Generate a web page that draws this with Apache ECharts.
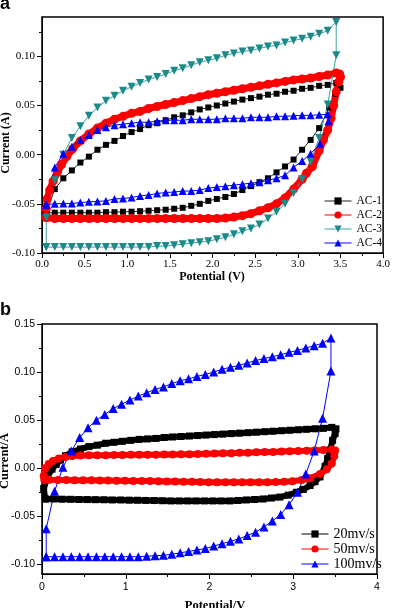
<!DOCTYPE html>
<html><head><meta charset="utf-8">
<script src="https://cdn.jsdelivr.net/npm/echarts@6/dist/echarts.min.js"></script>
<style>html,body{margin:0;padding:0;background:#fff}#c{width:393px;height:608px}</style>
</head><body><div id="c"></div>
<script>
// ---------- Panel a : [potential (V), current (A)] ----------
const ac1 = [[0.05,-0.059],[0.15,-0.035],[0.25,-0.024],[0.35,-0.016],[0.45,-0.008],[0.55,-0.002],[0.65,0.005],[0.75,0.010],[0.85,0.014],[0.95,0.019],[1.05,0.023],[1.15,0.026],[1.25,0.030],[1.35,0.032],[1.45,0.035],[1.55,0.038],[1.65,0.040],[1.75,0.043],[1.85,0.046],[1.95,0.048],[2.05,0.050],[2.15,0.052],[2.25,0.054],[2.35,0.056],[2.45,0.0575],[2.55,0.059],[2.65,0.061],[2.75,0.062],[2.85,0.064],[2.95,0.065],[3.05,0.067],[3.15,0.068],[3.25,0.070],[3.35,0.071],[3.45,0.073],[3.50,0.068],[3.44,0.062],[3.37,0.048],[3.25,0.027],[3.15,0.015],[3.05,0.005],[2.95,-0.005],[2.85,-0.012],[2.75,-0.018],[2.65,-0.024],[2.55,-0.028],[2.45,-0.032],[2.35,-0.036],[2.25,-0.040],[2.15,-0.043],[2.05,-0.045],[1.95,-0.047],[1.85,-0.050],[1.75,-0.052],[1.65,-0.054],[1.55,-0.055],[1.45,-0.056],[1.35,-0.0565],[1.25,-0.057],[1.15,-0.0575],[1.05,-0.058],[0.95,-0.058],[0.85,-0.0585],[0.75,-0.0585],[0.65,-0.059],[0.55,-0.059],[0.45,-0.059],[0.35,-0.059],[0.25,-0.059],[0.15,-0.059],[0.05,-0.059]];
const ac2 = [[0.05,-0.064],[0.05,-0.055],[0.06,-0.045],[0.09,-0.036],[0.13,-0.027],[0.18,-0.018],[0.23,-0.010],[0.29,-0.002],[0.36,0.006],[0.45,0.014],[0.55,0.021],[0.65,0.027],[0.75,0.032],[0.85,0.036],[0.95,0.039],[1.05,0.042],[1.15,0.044],[1.25,0.047],[1.35,0.049],[1.45,0.051],[1.55,0.053],[1.65,0.055],[1.75,0.057],[1.85,0.059],[1.95,0.061],[2.05,0.0625],[2.15,0.064],[2.25,0.0655],[2.35,0.067],[2.45,0.0685],[2.55,0.070],[2.65,0.0715],[2.75,0.073],[2.85,0.0745],[2.95,0.076],[3.05,0.077],[3.15,0.078],[3.25,0.0795],[3.35,0.081],[3.45,0.083],[3.49,0.082],[3.50,0.079],[3.48,0.074],[3.45,0.064],[3.42,0.050],[3.39,0.037],[3.35,0.025],[3.30,0.015],[3.25,0.004],[3.17,-0.012],[3.10,-0.019],[3.05,-0.025],[2.95,-0.035],[2.85,-0.044],[2.75,-0.050],[2.65,-0.054],[2.55,-0.057],[2.45,-0.060],[2.35,-0.062],[2.25,-0.0635],[2.15,-0.0645],[2.05,-0.065],[1.95,-0.065],[1.85,-0.065],[1.75,-0.065],[1.65,-0.065],[1.55,-0.065],[1.45,-0.065],[1.35,-0.065],[1.25,-0.065],[1.15,-0.065],[1.05,-0.065],[0.95,-0.065],[0.85,-0.065],[0.75,-0.065],[0.65,-0.065],[0.55,-0.065],[0.45,-0.065],[0.35,-0.065],[0.25,-0.065],[0.15,-0.065],[0.05,-0.064]];
const ac3 = [[0.05,-0.094],[0.05,-0.064],[0.15,-0.026],[0.25,0.000],[0.35,0.017],[0.45,0.029],[0.55,0.0395],[0.65,0.048],[0.75,0.0548],[0.85,0.060],[0.95,0.065],[1.05,0.069],[1.15,0.0728],[1.25,0.0765],[1.35,0.079],[1.45,0.082],[1.55,0.0854],[1.65,0.088],[1.75,0.091],[1.85,0.094],[1.95,0.096],[2.05,0.098],[2.15,0.101],[2.25,0.103],[2.35,0.105],[2.45,0.106],[2.55,0.108],[2.65,0.110],[2.75,0.111],[2.85,0.114],[2.95,0.116],[3.05,0.118],[3.15,0.120],[3.25,0.123],[3.35,0.126],[3.45,0.135],[3.45,0.101],[3.35,0.051],[3.25,0.017],[3.15,-0.007],[3.05,-0.025],[2.95,-0.039],[2.85,-0.050],[2.75,-0.058],[2.65,-0.065],[2.55,-0.071],[2.45,-0.075],[2.35,-0.078],[2.25,-0.081],[2.15,-0.084],[2.05,-0.086],[1.95,-0.088],[1.85,-0.089],[1.75,-0.090],[1.65,-0.091],[1.55,-0.092],[1.45,-0.093],[1.35,-0.093],[1.25,-0.094],[1.15,-0.094],[1.05,-0.094],[0.95,-0.094],[0.85,-0.094],[0.75,-0.094],[0.65,-0.094],[0.55,-0.094],[0.45,-0.094],[0.35,-0.094],[0.25,-0.094],[0.15,-0.094],[0.05,-0.094]];
const ac4 = [[0.05,-0.051],[0.15,-0.013],[0.25,0.001],[0.35,0.008],[0.45,0.015],[0.55,0.020],[0.65,0.025],[0.75,0.028],[0.85,0.030],[0.95,0.031],[1.05,0.032],[1.15,0.033],[1.25,0.033],[1.35,0.034],[1.45,0.035],[1.55,0.035],[1.65,0.035],[1.75,0.036],[1.85,0.036],[1.95,0.036],[2.05,0.036],[2.15,0.037],[2.25,0.037],[2.35,0.037],[2.45,0.038],[2.55,0.038],[2.65,0.038],[2.75,0.039],[2.85,0.039],[2.95,0.0395],[3.05,0.040],[3.15,0.040],[3.25,0.0405],[3.35,0.041],[3.36,0.034],[3.26,0.011],[3.15,0.001],[3.05,-0.0065],[2.95,-0.013],[2.85,-0.021],[2.75,-0.024],[2.65,-0.026],[2.55,-0.028],[2.45,-0.029],[2.35,-0.030],[2.25,-0.031],[2.15,-0.032],[2.05,-0.033],[1.95,-0.034],[1.85,-0.036],[1.75,-0.037],[1.65,-0.037],[1.55,-0.038],[1.45,-0.0385],[1.35,-0.0395],[1.25,-0.041],[1.15,-0.042],[1.05,-0.0435],[0.95,-0.0446],[0.85,-0.045],[0.75,-0.047],[0.65,-0.0475],[0.55,-0.048],[0.45,-0.0487],[0.35,-0.0497],[0.25,-0.0497],[0.15,-0.050],[0.05,-0.0507]];
const namesA = ['AC-1','AC-2','AC-3','AC-4'];

// ---------- Panel b ----------
const s20 = [[0.04,-0.032],[0.02,-0.021],[0.07,-0.008],[0.12,-0.001],[0.17,0.004],[0.22,0.0085],[0.28,0.013],[0.36,0.017],[0.46,0.020],[0.56,0.0225],[0.66,0.024],[0.76,0.026],[0.86,0.027],[0.96,0.028],[1.06,0.029],[1.16,0.030],[1.26,0.0305],[1.36,0.031],[1.46,0.032],[1.56,0.0325],[1.66,0.033],[1.76,0.0335],[1.86,0.034],[1.96,0.0345],[2.06,0.035],[2.16,0.0355],[2.26,0.036],[2.36,0.0365],[2.46,0.037],[2.56,0.0375],[2.66,0.038],[2.76,0.0385],[2.86,0.039],[2.96,0.0395],[3.06,0.040],[3.16,0.0405],[3.26,0.041],[3.36,0.0415],[3.46,0.0425],[3.51,0.041],[3.50,0.036],[3.47,0.029],[3.44,0.019],[3.41,0.010],[3.38,0.002],[3.32,-0.009],[3.26,-0.014],[3.20,-0.018],[3.12,-0.022],[3.04,-0.025],[2.94,-0.028],[2.84,-0.030],[2.74,-0.031],[2.64,-0.032],[2.54,-0.0325],[2.44,-0.033],[2.34,-0.0335],[2.24,-0.034],[2.14,-0.034],[2.04,-0.034],[1.94,-0.034],[1.84,-0.034],[1.74,-0.034],[1.64,-0.034],[1.54,-0.034],[1.44,-0.0338],[1.34,-0.0336],[1.24,-0.0335],[1.14,-0.0333],[1.04,-0.0332],[0.94,-0.033],[0.84,-0.033],[0.74,-0.0328],[0.64,-0.0327],[0.54,-0.0326],[0.44,-0.0325],[0.34,-0.0323],[0.24,-0.0322],[0.14,-0.032],[0.04,-0.032]];
const s50 = [[0.03,-0.012],[0.02,-0.008],[0.04,0.000],[0.08,0.0045],[0.13,0.0075],[0.20,0.010],[0.28,0.0118],[0.36,0.0128],[0.46,0.0132],[0.56,0.0134],[0.66,0.0135],[0.76,0.0136],[0.86,0.0137],[0.96,0.0138],[1.06,0.0139],[1.16,0.014],[1.26,0.014],[1.36,0.0141],[1.46,0.0142],[1.56,0.0143],[1.66,0.0145],[1.76,0.0146],[1.86,0.0148],[1.96,0.015],[2.06,0.0152],[2.16,0.0155],[2.26,0.0157],[2.36,0.016],[2.46,0.0162],[2.56,0.0165],[2.66,0.0168],[2.76,0.017],[2.86,0.0173],[2.96,0.0176],[3.06,0.0179],[3.16,0.0182],[3.26,0.0186],[3.36,0.019],[3.46,0.0195],[3.50,0.0185],[3.49,0.0127],[3.46,0.005],[3.40,-0.001],[3.32,-0.006],[3.20,-0.0104],[3.10,-0.0122],[2.99,-0.0135],[2.89,-0.014],[2.79,-0.0143],[2.69,-0.0145],[2.59,-0.0145],[2.49,-0.0145],[2.39,-0.0145],[2.29,-0.0145],[2.19,-0.0145],[2.09,-0.0145],[1.99,-0.0145],[1.89,-0.0142],[1.79,-0.014],[1.69,-0.014],[1.59,-0.0138],[1.49,-0.0137],[1.39,-0.0135],[1.29,-0.0134],[1.19,-0.0133],[1.09,-0.0132],[0.99,-0.0131],[0.89,-0.013],[0.79,-0.0128],[0.69,-0.0127],[0.59,-0.0126],[0.49,-0.0125],[0.39,-0.0124],[0.29,-0.0123],[0.19,-0.0122],[0.09,-0.0121],[0.03,-0.012]];
const s100 = [[0.05,-0.092],[0.05,-0.063],[0.15,-0.024],[0.25,0.001],[0.35,0.018],[0.45,0.032],[0.55,0.042],[0.65,0.050],[0.75,0.056],[0.85,0.062],[0.95,0.0665],[1.05,0.071],[1.15,0.075],[1.25,0.0785],[1.35,0.082],[1.45,0.0845],[1.55,0.088],[1.65,0.091],[1.75,0.093],[1.85,0.0955],[1.95,0.0975],[2.05,0.100],[2.15,0.103],[2.25,0.105],[2.35,0.107],[2.45,0.1095],[2.55,0.112],[2.65,0.114],[2.75,0.116],[2.85,0.118],[2.95,0.1205],[3.05,0.1225],[3.15,0.125],[3.25,0.1275],[3.35,0.130],[3.45,0.1355],[3.45,0.101],[3.35,0.052],[3.25,0.018],[3.15,-0.006],[3.05,-0.025],[2.95,-0.038],[2.85,-0.048],[2.75,-0.055],[2.65,-0.061],[2.55,-0.0665],[2.45,-0.070],[2.35,-0.0735],[2.25,-0.076],[2.15,-0.0785],[2.05,-0.081],[1.95,-0.0835],[1.85,-0.085],[1.75,-0.0865],[1.65,-0.088],[1.55,-0.0895],[1.45,-0.0905],[1.35,-0.091],[1.25,-0.0915],[1.15,-0.092],[1.05,-0.092],[0.95,-0.092],[0.85,-0.092],[0.75,-0.092],[0.65,-0.092],[0.55,-0.092],[0.45,-0.092],[0.35,-0.092],[0.25,-0.092],[0.15,-0.092],[0.05,-0.092]];
const namesB = ['20mv/s','50mv/s','100mv/s'];

// ---------- tick values ----------
const aXTicks = {min:0, max:4, interval:0.5};
const aYMajor = [-0.1,-0.05,0,0.05,0.1];
const aYMinor = [-0.075,-0.025,0.025,0.075,0.125];
const bXTicks = {min:0, max:4, interval:1};
const bYMajor = [-0.1,-0.05,0,0.05,0.1,0.15];
const bYMinor = [-0.075,-0.025,0.025,0.075,0.125];

const SERIF = '"Liberation Serif", "Times New Roman", serif';
const SANS = '"Liberation Sans", Arial, sans-serif';
const BLACK = '#000';

function xAxis(grid, t, font, size, fmt, margin) {
  return {
    gridIndex: grid, type: 'value', min: t.min, max: t.max, interval: t.interval,
    axisLine: {show: true, onZero: false, lineStyle: {color: BLACK, width: 1}},
    axisTick: {show: true, inside: false, length: 5, lineStyle: {color: BLACK}},
    minorTick: {show: true, splitNumber: 2, length: 3, lineStyle: {color: BLACK}},
    splitLine: {show: false}, minorSplitLine: {show: false},
    axisLabel: {formatter: fmt, fontFamily: font, fontSize: size, color: BLACK, margin: margin}
  };
}
function yMain(grid, min, max, major, font, size) {
  return {
    gridIndex: grid, type: 'value', min: min, max: max, position: 'left',
    axisLine: {show: true, onZero: false, lineStyle: {color: BLACK, width: 1}},
    axisTick: {show: true, inside: false, length: 5, customValues: major, lineStyle: {color: BLACK}},
    splitLine: {show: false},
    axisLabel: {customValues: major, formatter: v => v.toFixed(2), fontFamily: font, fontSize: size, color: BLACK, margin: 7}
  };
}
function yMinor(grid, min, max, minor) {
  return {
    gridIndex: grid, type: 'value', min: min, max: max, position: 'left',
    axisLine: {show: false},
    axisTick: {show: true, inside: false, length: 3, customValues: minor, lineStyle: {color: BLACK}},
    splitLine: {show: false},
    axisLabel: {show: false}
  };
}
function solid(c) { return {color: c, borderColor: c, borderWidth: 0, opacity: 1}; }

const chart = echarts.init(document.getElementById('c'), null, {renderer: 'canvas'});
chart.setOption({
  animation: false,
  backgroundColor: '#fff',
  grid: [
    {left: 42, top: 17, width: 344, height: 236, show: true, borderColor: BLACK, borderWidth: 1.5, backgroundColor: 'transparent'},
    {left: 42, top: 324, width: 335, height: 250, show: true, borderColor: BLACK, borderWidth: 1.5, backgroundColor: 'transparent'}
  ],
  xAxis: [
    xAxis(0, aXTicks, SERIF, 11, v => v.toFixed(1), 6),
    xAxis(1, bXTicks, SANS, 10.5, v => String(v), 8)
  ],
  yAxis: [
    yMain(0, -0.1, 0.14, aYMajor, SERIF, 11),
    yMinor(0, -0.1, 0.14, aYMinor),
    yMain(1, -0.11, 0.15, bYMajor, SANS, 10.5),
    yMinor(1, -0.11, 0.15, bYMinor)
  ],
  legend: [
    {data: namesA, orient: 'vertical', left: 324, top: 195, padding: 0, itemWidth: 27, itemHeight: 9, itemGap: 2,
     textStyle: {fontFamily: SERIF, fontSize: 11.5, color: BLACK}, lineStyle: {width: 1}},
    {data: namesB, orient: 'vertical', left: 301, top: 527, padding: 0, itemWidth: 27, itemHeight: 9, itemGap: 1,
     textStyle: {fontFamily: SERIF, fontSize: 14, color: BLACK}, lineStyle: {width: 1}}
  ],
  graphic: [
    {type: 'text', x: 0, y: 13, style: {text: 'a', font: 'bold 18px "Liberation Sans"', fill: BLACK, verticalAlign: 'bottom'}},
    {type: 'text', x: 0, y: 319, style: {text: 'b', font: 'bold 18px "Liberation Sans"', fill: BLACK, verticalAlign: 'bottom'}},
    {type: 'text', x: 6, y: 143, rotation: Math.PI / 2, style: {text: 'Current (A)', font: 'bold 12px "Liberation Serif"', fill: BLACK, align: 'center', verticalAlign: 'middle'}},
    {type: 'text', x: 212, y: 277, style: {text: 'Potential (V)', font: 'bold 12px "Liberation Serif"', fill: BLACK, align: 'center', verticalAlign: 'middle'}},
    {type: 'text', x: 5, y: 461, rotation: Math.PI / 2, style: {text: 'Current/A', font: 'bold 12.5px "Liberation Serif"', fill: BLACK, align: 'center', verticalAlign: 'middle'}},
    {type: 'text', x: 215, y: 599, style: {text: 'Potential/V', font: 'bold 12.5px "Liberation Serif"', fill: BLACK, align: 'center', verticalAlign: 'top'}}
  ],
  series: [
    {name: 'AC-1', type: 'line', xAxisIndex: 0, yAxisIndex: 0, data: ac1, symbol: 'rect', symbolSize: 6,
     itemStyle: solid('#000'), lineStyle: {color: '#222', width: 1}},
    {name: 'AC-2', type: 'line', xAxisIndex: 0, yAxisIndex: 0, data: ac2, symbol: 'circle', symbolSize: 9,
     itemStyle: solid('#ff0000'), lineStyle: {color: '#ff0000', width: 7}},
    {name: 'AC-3', type: 'line', xAxisIndex: 0, yAxisIndex: 0, data: ac3, symbol: 'triangle', symbolRotate: 180, symbolSize: 8,
     itemStyle: solid('#1a8a8a'), lineStyle: {color: '#3ca3a3', width: 1}},
    {name: 'AC-4', type: 'line', xAxisIndex: 0, yAxisIndex: 0, data: ac4, symbol: 'triangle', symbolSize: 8,
     itemStyle: solid('#0000ff'), lineStyle: {color: '#0000ff', width: 1}},
    {name: '20mv/s', type: 'line', xAxisIndex: 1, yAxisIndex: 2, data: s20, symbol: 'rect', symbolSize: 7,
     itemStyle: solid('#000'), lineStyle: {color: '#000', width: 6}},
    {name: '50mv/s', type: 'line', xAxisIndex: 1, yAxisIndex: 2, data: s50, symbol: 'circle', symbolSize: 8,
     itemStyle: solid('#ff0000'), lineStyle: {color: '#ff0000', width: 6}},
    {name: '100mv/s', type: 'line', xAxisIndex: 1, yAxisIndex: 2, data: s100, symbol: 'triangle', symbolSize: 9,
     itemStyle: solid('#0000ff'), lineStyle: {color: '#0000ff', width: 1}}
  ]
});
</script>
</body></html>
